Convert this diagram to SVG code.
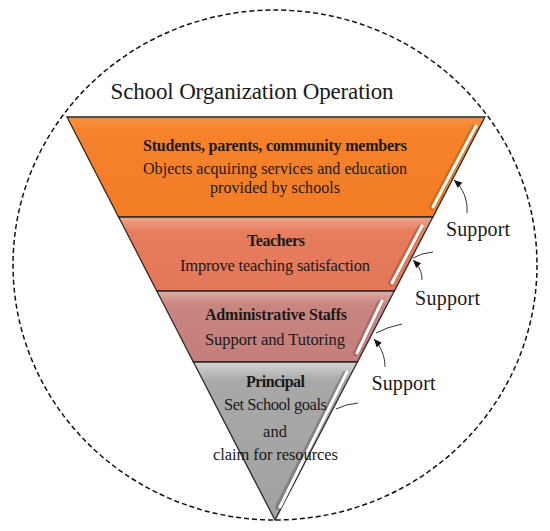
<svg xmlns="http://www.w3.org/2000/svg" width="550" height="531" viewBox="0 0 550 531">
<style>
  .t { font-family: "Liberation Serif", "DejaVu Serif", serif; fill: #1a1a1a; text-anchor: middle; }
  .b { font-weight: bold; }
  .band { stroke: #2a2a2a; stroke-width: 1.3; stroke-linejoin: miter; }
  .hl { stroke: #ffffff; stroke-width: 3; stroke-linecap: round; fill: none; }
  .hls { stroke-width: 6; stroke-linecap: round; fill: none; opacity: 0.35; }
  .conn { fill: none; stroke: #333333; stroke-width: 1; }
</style>
<defs>
  <linearGradient id="g1" x1="0" y1="0" x2="0" y2="1">
    <stop offset="0" stop-color="#F7913F"/><stop offset="0.15" stop-color="#F5822C"/><stop offset="1" stop-color="#F47D25"/>
  </linearGradient>
  <linearGradient id="g2" x1="0" y1="0" x2="0" y2="1">
    <stop offset="0" stop-color="#F0A48C"/><stop offset="0.2" stop-color="#E77C5E"/><stop offset="1" stop-color="#E4775A"/>
  </linearGradient>
  <linearGradient id="g3" x1="0" y1="0" x2="0" y2="1">
    <stop offset="0" stop-color="#DDAAA6"/><stop offset="0.2" stop-color="#C9857F"/><stop offset="1" stop-color="#C47F7A"/>
  </linearGradient>
  <linearGradient id="g4" x1="0" y1="0" x2="0" y2="1">
    <stop offset="0" stop-color="#D4D4D4"/><stop offset="0.12" stop-color="#A8A8A8"/><stop offset="1" stop-color="#A2A2A2"/>
  </linearGradient>
  <marker id="arr" markerUnits="userSpaceOnUse" markerWidth="9" markerHeight="8" refX="8" refY="3.5" orient="auto">
    <path d="M0,0 L8,3.5 L0,7 z" fill="#111111"/>
  </marker>
</defs>

<ellipse cx="275" cy="265" rx="262" ry="255" fill="none" stroke="#111111" stroke-width="1.5" stroke-dasharray="5,3"/>

<text class="t" x="252" y="99" font-size="23" textLength="283" lengthAdjust="spacing">School Organization Operation</text>

<g id="band1">
  <polygon class="band" points="67,117 485,117 432.9,217 118.6,217" fill="url(#g1)"/>
  <line class="hls" stroke="#8a4a10" x1="474" y1="128" x2="432" y2="207"/>
  <line class="hl" x1="476" y1="126" x2="433" y2="207"/>
  <text class="t b" x="275" y="151" font-size="16" textLength="264" lengthAdjust="spacing">Students, parents, community members</text>
  <text class="t" x="275" y="174" font-size="16" textLength="264" lengthAdjust="spacing">Objects acquiring services and education</text>
  <text class="t" x="275" y="193" font-size="16" textLength="130" lengthAdjust="spacing">provided by schools</text>
</g>

<g id="band2">
  <polygon class="band" points="118.6,217 432.9,217 394.3,291 156.8,291" fill="url(#g2)"/>
  <line class="hls" stroke="#7a3a28" x1="420" y1="228" x2="391" y2="283"/>
  <line class="hl" x1="422" y1="226" x2="392" y2="283"/>
  <text class="t b" x="276" y="246" font-size="16" textLength="58" lengthAdjust="spacing">Teachers</text>
  <text class="t" x="275" y="271" font-size="16.5" textLength="190" lengthAdjust="spacing">Improve teaching satisfaction</text>
</g>

<g id="band3">
  <polygon class="band" points="156.8,291 394.3,291 357.4,362 193.4,362" fill="url(#g3)"/>
  <line class="hls" stroke="#6a3a36" x1="380" y1="303" x2="356" y2="353"/>
  <line class="hl" x1="382" y1="301" x2="357" y2="353"/>
  <text class="t b" x="276" y="320" font-size="16" textLength="142" lengthAdjust="spacing">Administrative Staffs</text>
  <text class="t" x="275" y="345" font-size="16.5" textLength="140" lengthAdjust="spacing">Support and Tutoring</text>
</g>

<g id="band4">
  <polygon class="band" points="193.4,362 357.4,362 275,520" fill="url(#g4)"/>
  <line class="hls" stroke="#444444" x1="345" y1="374" x2="278" y2="507"/>
  <line class="hl" x1="347" y1="372" x2="280" y2="507"/>
  <text class="t b" x="275.5" y="387" font-size="16" textLength="59" lengthAdjust="spacing">Principal</text>
  <text class="t" x="275.5" y="410" font-size="16.5" textLength="103" lengthAdjust="spacing">Set School goals</text>
  <text class="t" x="275" y="437" font-size="16.5" textLength="24" lengthAdjust="spacing">and</text>
  <text class="t" x="275.5" y="460" font-size="16.5" textLength="125" lengthAdjust="spacing">claim for resources</text>
</g>

<g id="labels">
  <text class="t" x="478" y="236" font-size="20" textLength="64" lengthAdjust="spacing">Support</text>
  <text class="t" x="447.5" y="305" font-size="20" textLength="65" lengthAdjust="spacing">Support</text>
  <text class="t" x="403.5" y="390" font-size="20" textLength="64" lengthAdjust="spacing">Support</text>
</g>

<g id="connectors">
  <path class="conn" d="M467,213 C468,200 463,188 454,180" marker-end="url(#arr)"/>
  <path class="conn" d="M433,252 Q421,253 413,258"/>
  <path class="conn" d="M422,280 C422,272 419,266 413,260" marker-end="url(#arr)"/>
  <path class="conn" d="M402,324 Q387,327 376,333"/>
  <path class="conn" d="M385,367 C385,356 381,347 374,339" marker-end="url(#arr)"/>
  <path class="conn" d="M358,403 Q346,404 336,409"/>
</g>
</svg>
